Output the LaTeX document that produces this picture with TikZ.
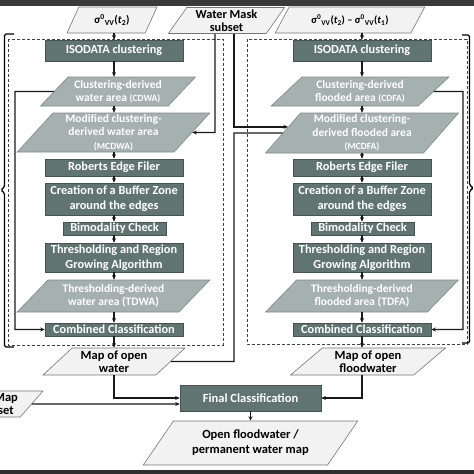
\documentclass[tikz,border=0pt]{standalone}
\usepackage{fontspec}
\setmainfont{Carlito}
\usetikzlibrary{shapes.geometric,arrows.meta,calc}
\definecolor{dk}{RGB}{96,116,113}
\definecolor{dkline}{RGB}{68,84,82}
\definecolor{md}{RGB}{164,177,175}
\definecolor{mdline}{RGB}{126,139,137}
\definecolor{lt}{RGB}{242,242,242}
\definecolor{ltline}{RGB}{118,118,118}
\definecolor{band}{RGB}{58,58,58}
\begin{document}
\begin{tikzpicture}[x=1pt,y=-1pt,
  every node/.style={align=center},
  dbox/.style={rectangle, fill=dk, draw=dkline, line width=0.6pt, text=white, inner sep=0pt,
    font=\bfseries\fontsize{12.3}{15}\selectfont},
  gpara/.style={shape=trapezium, trapezium stretches=true, fill=md, draw=mdline, line width=0.6pt,
    text=white, inner sep=0pt, font=\bfseries\fontsize{11.5}{13.5}\selectfont},
  ipara/.style={shape=trapezium, trapezium stretches=true, fill=lt, draw=ltline, line width=0.6pt,
    text=black, inner sep=0pt, font=\bfseries\fontsize{11}{14}\selectfont},
  sz/.style 2 args={minimum width=#1, minimum height=#2},
  ang/.style 2 args={trapezium left angle=#1, trapezium right angle=#2},
  conn/.style={line width=1.2pt, draw=black!90},
  arr/.style={conn, -{Stealth[length=4.5pt,width=4pt]}},
  dashbox/.style={draw=black!75, line width=0.9pt, dash pattern=on 3pt off 2pt},
  brace/.style={draw=black, line width=1.3pt, rounded corners=1.5pt},
  bigtext/.style={font=\bfseries\fontsize{12.5}{13.5}\selectfont}
]
\fill[white] (0,0) rectangle (474,474);
\useasboundingbox (0,0) rectangle (474,474);
\fill[band] (0,0) rectangle (474,6);
\fill[band!80!black] (0,470) rectangle (474,474);

% group frames
\draw[dashbox] (8,39) rectangle (223,345);
\draw[dashbox] (247,39) rectangle (467,344);
\draw[brace] (14,34) -- (4.5,34) -- (4.5,187) -- (0.8,190) -- (4.5,193) -- (4.5,347) -- (14,347);
\draw[brace] (462,35) -- (469.5,35) -- (469.5,185) -- (473.3,188) -- (469.5,191) -- (469.5,343) -- (462,343);

% inputs
\node[ipara, sz={90}{26}, ang={60}{120}] (sL) at (112,20)
  {σ\textsuperscript{0}\textsubscript{VV}(\textit{t}\textsubscript{2})};
\node[ipara, sz={117}{26}, ang={56.8}{123.2}, font=\bfseries\fontsize{12.3}{13}\selectfont] (wm) at (226.5,20.5)
  {Water Mask\\subset};
\node[ipara, sz={150}{26}, ang={49.8}{130.2}, font=\bfseries\fontsize{10.5}{14}\selectfont] (sR) at (350,20)
  {σ\textsuperscript{0}\textsubscript{VV}(\textit{t}\textsubscript{2}) -- σ\textsuperscript{0}\textsubscript{VV}(\textit{t}\textsubscript{1})};

% left column
\node[dbox, sz={138}{21}] (isoL) at (114,50.5) {ISODATA clustering};
\node[gpara, sz={155}{29}, ang={44}{136}] (cdwa) at (118,91.5)
  {Clustering-derived\\water area {\fontsize{9.5}{10}\selectfont(CDWA)}};
\node[gpara, sz={193}{39}, ang={52.2}{127.8}] (mcdwa) at (113.5,132.5)
  {Modified clustering-\\derived water area\\{\fontsize{9.5}{10}\selectfont(MCDWA)}};
\node[dbox, sz={138}{17}] (robL) at (114,167.5) {Roberts Edge Filer};
\node[dbox, sz={138}{32}] (bufL) at (114,199) {Creation of a Buffer Zone\\around the edges};
\node[dbox, sz={103}{13}] (bimL) at (114.5,228.5) {Bimodality Check};
\node[dbox, sz={138}{29}] (thrL) at (114,257.5) {Thresholding and Region\\Growing Algorithm};
\node[gpara, sz={193}{32}, ang={44.1}{135.9}] (tdwa) at (113.5,296)
  {Thresholding-derived\\water area (TDWA)};
\node[dbox, sz={138}{13}] (combL) at (114,329.5) {Combined Classification};
\node[ipara, sz={142}{27}, ang={44}{136}, bigtext] (mapL) at (114,361.5)
  {Map of open\\water};

% right column
\node[dbox, sz={138}{21}] (isoR) at (362,50.5) {ISODATA clustering};
\node[gpara, sz={178}{29}, ang={44}{136}] (cdfa) at (360,91.5)
  {Clustering-derived\\flooded area {\fontsize{9.5}{10}\selectfont(CDFA)}};
\node[gpara, sz={193}{40}, ang={52.2}{127.8}] (mcdfa) at (362,133)
  {Modified clustering-\\derived flooded area\\{\fontsize{9.5}{10}\selectfont(MCDFA)}};
\node[dbox, sz={138}{17}] (robR) at (362,167.5) {Roberts Edge Filer};
\node[dbox, sz={138}{32}] (bufR) at (362,199) {Creation of a Buffer Zone\\around the edges};
\node[dbox, sz={103}{13}] (bimR) at (362.5,228.5) {Bimodality Check};
\node[dbox, sz={138}{29}] (thrR) at (362,257.5) {Thresholding and Region\\Growing Algorithm};
\node[gpara, sz={193}{32}, ang={44.1}{135.9}] (tdfa) at (362,296)
  {Thresholding-derived\\flooded area (TDFA)};
\node[dbox, sz={138}{13}] (combR) at (362,329.5) {Combined Classification};
\node[ipara, sz={155}{27}, ang={44}{136}, bigtext] (mapR) at (368,361.5)
  {Map of open\\floodwater};

% bottom
\node[ipara, sz={90}{26}, ang={55.3}{124.7}] (mapset) at (-2,404) {\phantom{M}};
\node[bigtext, inner sep=0pt] (mapsettxt) at (6,404) {Map\\set};
\node[dbox, sz={141}{26}, font=\bfseries\fontsize{12.5}{14}\selectfont] (final) at (250.5,398) {Final Classification};
\node[ipara, sz={215}{44}, ang={48.4}{131.6}, font=\bfseries\fontsize{12.5}{15}\selectfont] (out) at (250.5,443)
  {Open floodwater /\\permanent water map};

% helper coordinates
\coordinate (cl) at (114,0);
\coordinate (cr) at (362,0);
\coordinate (xwl) at (215,0);
\coordinate (xwr) at (234,0);
\coordinate (xfl) at (15,0);
\coordinate (xfr) at (463,0);
\coordinate (mfa1) at ($(mcdfa.bottom left corner)!0.65!(mcdfa.top left corner)$);

% connectors
\draw[arr] (cl |- sL.south) -- (isoL);
\draw[arr] (cr |- sR.south) -- (isoR);
\foreach \a/\b in {isoL/cdwa, cdwa/mcdwa, mcdwa/robL, robL/bufL, bufL/bimL, bimL/thrL, thrL/tdwa, tdwa/combL, combL/mapL}
  \draw[arr] (cl |- \a.south) -- (cl |- \b.north);
\foreach \a/\b in {isoR/cdfa, cdfa/mcdfa, mcdfa/robR, robR/bufR, bufR/bimR, bimR/thrR, thrR/tdfa, tdfa/combR, combR/mapR}
  \draw[arr] (cr |- \a.south) -- (cr |- \b.north);

\draw[arr] (cdwa) -- (xfl |- cdwa) -- (xfl |- combL) -- (combL);
\draw[arr] (cdfa) -- (xfr |- cdfa) -- (xfr |- combR) -- (combR);

\draw[arr] (xwl |- wm.south) -- (xwl |- mcdwa) -- (mcdwa);
\draw[arr] (xwr |- wm.south) -- (xwr |- mfa1) -- (mfa1);
\draw[conn] (mapL) -- (xwr |- mapL) -- (xwr |- mcdfa) -- (mcdfa);

\draw[arr] (cl |- mapL.south) |- (final.west);
\draw[arr] (cr |- mapR.south) |- (final.east);
\draw[arr] (mapset) -- (mapset -| final.west);
\draw[arr] (final) -- (out);
\end{tikzpicture}
\end{document}
